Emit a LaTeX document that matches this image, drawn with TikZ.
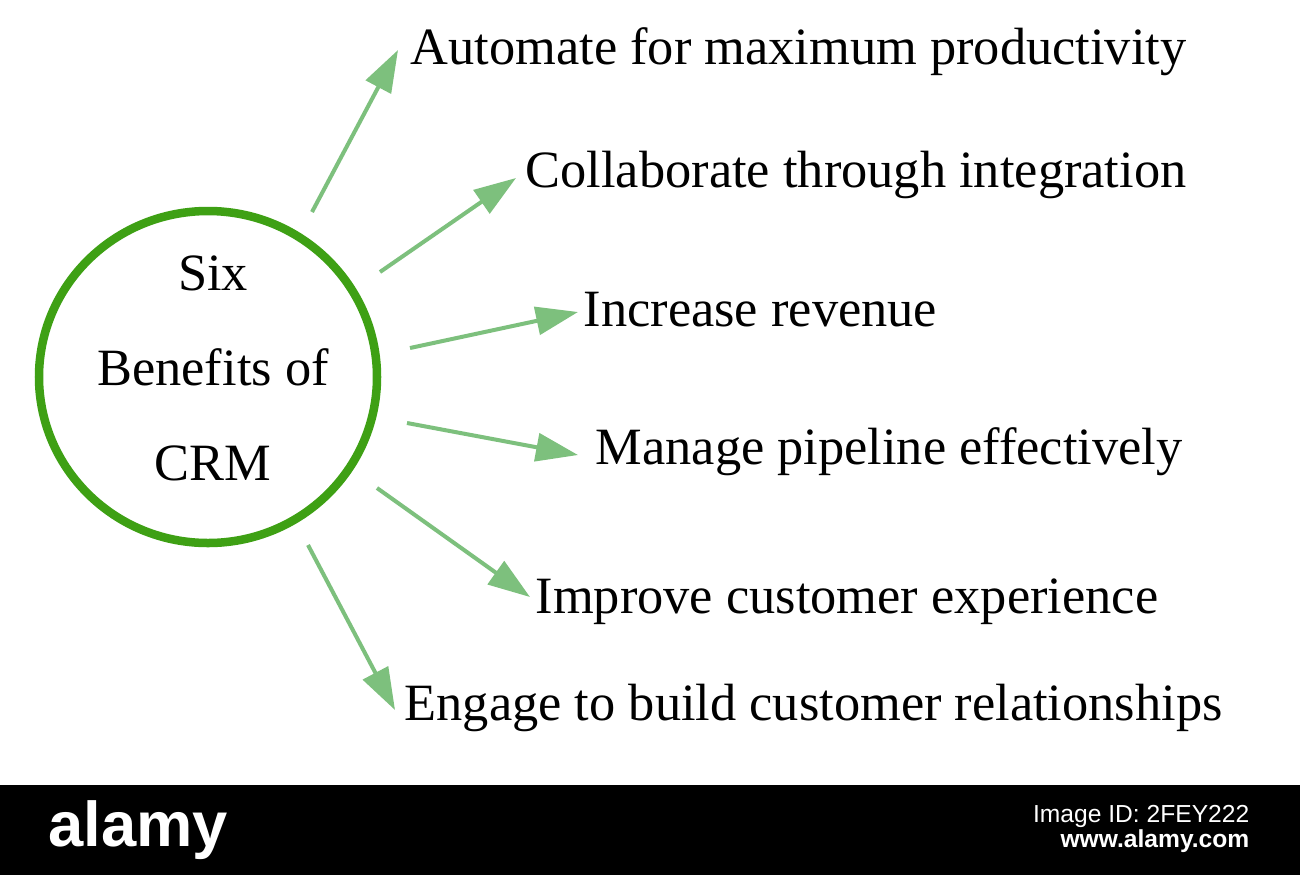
\documentclass[tikz,border=0pt]{standalone}
\usepackage{fontspec}
\setmainfont{Liberation Serif}
\newfontfamily\wmfont{Liberation Sans}
\usetikzlibrary{arrows.meta}
\definecolor{ringgreen}{RGB}{62,160,20}
\definecolor{arrowgreen}{RGB}{125,192,125}
\tikzset{
  benefit/.style={anchor=west,inner sep=0pt,font=\fontsize{14.9}{17}\selectfont},
  link/.style={arrowgreen,line width=0.4mm,-{Triangle[length=4.2mm,width=2.8mm]}},
}
\begin{document}
\begin{tikzpicture}[x=0.01cm,y=-0.01cm]
\useasboundingbox (0,0) rectangle (1300,875);
\fill[white] (0,0) rectangle (1300,785);
\fill[black] (0,785) rectangle (1300,875);
\node[white,font=\wmfont\bfseries\fontsize{18}{20}\selectfont,anchor=west,inner sep=0pt] (logo) at (48,830) {alamy};
\node[white,font=\wmfont\fontsize{7}{8}\selectfont,anchor=east,inner sep=0pt] (imgid) at (1250,816) {Image ID: 2FEY222};
\node[white,font=\wmfont\bfseries\fontsize{7}{8}\selectfont,anchor=east,inner sep=0pt] (site) at (1250,841) {www.alamy.com};
% central ring
\draw[ringgreen,line width=0.085cm] (208,377) ellipse (169 and 166);
\node[font=\fontsize{14.9}{17}\selectfont,align=center] (crm) at (213,368) {Six\\[10pt]Benefits of\\[10pt]CRM};
% benefits
\node[benefit] (auto) at (410,52) {Automate for maximum productivity};
\node[benefit] (collab) at (525,175) {Collaborate through integration};
\node[benefit] (revenue) at (583,310) {Increase revenue};
\node[benefit] (pipe) at (595,452) {Manage pipeline effectively};
\node[benefit] (improve) at (535,602) {Improve customer experience};
\node[benefit] (engage) at (404,708) {Engage to build customer relationships};
% arrow ends
\coordinate (s1) at (312,212); \coordinate (e1) at (398,50);
\coordinate (s2) at (380,272); \coordinate (e2) at (516,178);
\coordinate (s3) at (410,348); \coordinate (e3) at (578,312);
\coordinate (s4) at (407,423); \coordinate (e4) at (578,455);
\coordinate (s5) at (377,488); \coordinate (e5) at (530,597);
\coordinate (s6) at (308,545); \coordinate (e6) at (395,710);
\foreach \i in {1,...,6}
  \draw[link] (s\i) -- (e\i);
\end{tikzpicture}
\end{document}
